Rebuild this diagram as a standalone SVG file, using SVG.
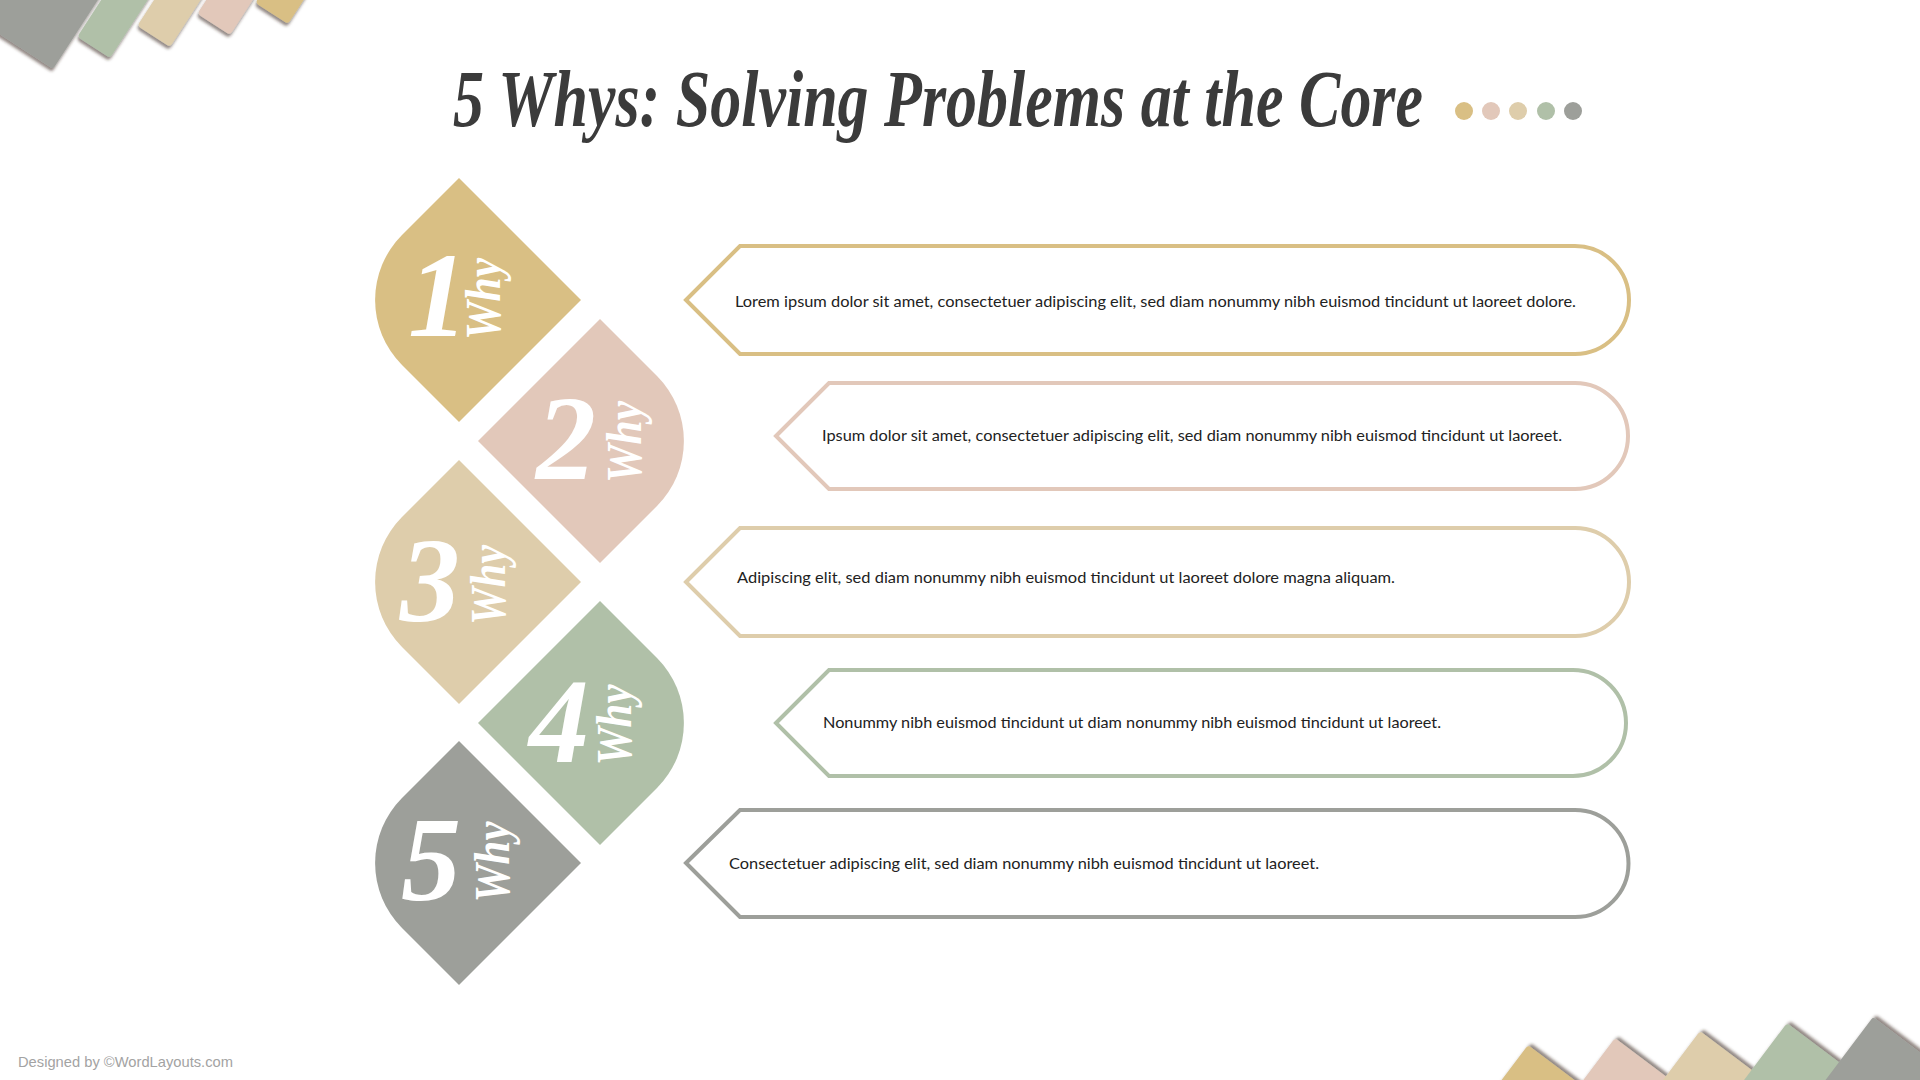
<svg xmlns="http://www.w3.org/2000/svg" width="1920" height="1080" viewBox="0 0 1920 1080">
  <defs>
    <filter id="shTL" x="-30%" y="-30%" width="160%" height="160%">
      <feDropShadow dx="-1" dy="3" stdDeviation="1.6" flood-color="#3a2a20" flood-opacity="0.55"/>
    </filter>
    <filter id="shBR" x="-30%" y="-30%" width="160%" height="160%">
      <feDropShadow dx="3" dy="-2" stdDeviation="1.6" flood-color="#3a2a20" flood-opacity="0.55"/>
    </filter>
  </defs>
  <style>
    .gold{fill:#D9BF84}
    .pink{fill:#E2C8BA}
    .beige{fill:#DECDAB}
    .green{fill:#B0C0A8}
    .gray{fill:#9D9F9A}
    .box{fill:#FFFFFF;stroke-width:4;stroke-linejoin:miter}
    .num{font-family:"Liberation Serif","DejaVu Serif",serif;font-style:italic;font-weight:bold;font-size:120px;fill:#FFFFFF;text-anchor:middle}
    .why{font-family:"Liberation Serif","DejaVu Serif",serif;font-style:italic;font-weight:bold;font-size:50px;fill:#FFFFFF;text-anchor:middle}
    .txt{font-family:Lato,"Open Sans","Liberation Sans",sans-serif;font-size:16px;fill:#222222}
    .title{font-family:"Liberation Serif","DejaVu Serif",serif;font-style:italic;font-weight:bold;font-size:80px;fill:#3B3B3B}
    .foot{font-family:"Liberation Sans",Arial,sans-serif;font-size:15px;fill:#A3A3A3}
  </style>
  <rect width="1920" height="1080" fill="#FFFFFF"/>

  <!-- top-left decoration -->
  <g id="deco-top-left" filter="url(#shTL)">
    <rect class="gold" x="-39" y="-150" width="39" height="150" rx="4" transform="translate(288,24) rotate(33)"/>
    <rect class="pink" x="-39" y="-150" width="39" height="150" rx="4" transform="translate(230,35) rotate(33)"/>
    <rect class="beige" x="-39" y="-150" width="39" height="150" rx="4" transform="translate(170,47) rotate(33)"/>
    <rect class="green" x="-39" y="-150" width="39" height="150" rx="4" transform="translate(110,58) rotate(33)"/>
    <rect class="gray" x="-140" y="-150" width="140" height="150" rx="3" transform="translate(53,69) rotate(33)"/>
  </g>

  <!-- bottom-right decoration -->
  <g id="deco-bottom-right" filter="url(#shBR)">
    <rect class="gold" x="0" y="0" width="80" height="150" rx="4" transform="translate(1528,1045) rotate(37)"/>
    <rect class="pink" x="0" y="0" width="80" height="150" rx="4" transform="translate(1615,1038) rotate(37)"/>
    <rect class="beige" x="0" y="0" width="80" height="150" rx="4" transform="translate(1700,1031) rotate(37)"/>
    <rect class="green" x="0" y="0" width="80" height="150" rx="4" transform="translate(1787,1023) rotate(37)"/>
    <rect class="gray" x="0" y="0" width="160" height="160" rx="3" transform="translate(1873,1017) rotate(37)"/>
  </g>

  <!-- title -->
  <g id="title">
    <text class="title" x="453" y="126" textLength="970" lengthAdjust="spacingAndGlyphs">5 Whys: Solving Problems at the Core</text>
    <circle class="gold" cx="1464" cy="111" r="9"/>
    <circle class="pink" cx="1491" cy="111" r="9"/>
    <circle class="beige" cx="1518" cy="111" r="9"/>
    <circle class="green" cx="1546" cy="111" r="9"/>
    <circle class="gray" cx="1573" cy="111" r="9"/>
  </g>

  <!-- nodes -->
  <g id="node-1">
    <path class="gold" d="M459,178 L581,300 L459,422 L402,365 A92,92 0 0 1 402,235 Z"/>
    <text class="num" x="438" y="336">1</text>
    <text class="why" transform="translate(500,299) rotate(-90)" textLength="82" lengthAdjust="spacingAndGlyphs">Why</text>
  </g>
  <g id="node-2">
    <path class="pink" d="M600,319 L657,376 A92,92 0 0 1 657,506 L600,563 L478,441 Z"/>
    <text class="num" x="566" y="479">2</text>
    <text class="why" transform="translate(641,442) rotate(-90)" textLength="82" lengthAdjust="spacingAndGlyphs">Why</text>
  </g>
  <g id="node-3">
    <path class="beige" d="M459,460 L581,582 L459,704 L402,647 A92,92 0 0 1 402,517 Z"/>
    <text class="num" x="430" y="621">3</text>
    <text class="why" transform="translate(505,585) rotate(-90)" textLength="80" lengthAdjust="spacingAndGlyphs">Why</text>
  </g>
  <g id="node-4">
    <path class="green" d="M600,601 L657,658 A92,92 0 0 1 657,788 L600,845 L478,723 Z"/>
    <text class="num" x="559" y="762">4</text>
    <text class="why" transform="translate(631,725) rotate(-90)" textLength="81" lengthAdjust="spacingAndGlyphs">Why</text>
  </g>
  <g id="node-5">
    <path class="gray" d="M459,741 L581,863 L459,985 L402,928 A92,92 0 0 1 402,798 Z"/>
    <text class="num" x="431" y="900">5</text>
    <text class="why" transform="translate(509,862) rotate(-90)" textLength="81" lengthAdjust="spacingAndGlyphs">Why</text>
  </g>

  <!-- text boxes -->
  <g id="box-1">
    <path class="box" stroke="#D9BF84" d="M686,300 L740,246 L1575,246 A54,54 0 0 1 1575,354 L740,354 Z"/>
    <text class="txt" x="735" y="307" textLength="841" lengthAdjust="spacingAndGlyphs">Lorem ipsum dolor sit amet, consectetuer adipiscing elit, sed diam nonummy nibh euismod tincidunt ut laoreet dolore.</text>
  </g>
  <g id="box-2">
    <path class="box" stroke="#E2C8BA" d="M776,436 L829,383 L1575,383 A53,53 0 0 1 1575,489 L829,489 Z"/>
    <text class="txt" x="822" y="441" textLength="740" lengthAdjust="spacingAndGlyphs">Ipsum dolor sit amet, consectetuer adipiscing elit, sed diam nonummy nibh euismod tincidunt ut laoreet.</text>
  </g>
  <g id="box-3">
    <path class="box" stroke="#DECDAB" d="M686,582 L740,528 L1575,528 A54,54 0 0 1 1575,636 L740,636 Z"/>
    <text class="txt" x="737" y="583" textLength="658" lengthAdjust="spacingAndGlyphs">Adipiscing elit, sed diam nonummy nibh euismod tincidunt ut laoreet dolore magna aliquam.</text>
  </g>
  <g id="box-4">
    <path class="box" stroke="#B0C0A8" d="M776,723 L829,670 L1573,670 A53,53 0 0 1 1573,776 L829,776 Z"/>
    <text class="txt" x="823" y="728" textLength="618" lengthAdjust="spacingAndGlyphs">Nonummy nibh euismod tincidunt ut diam nonummy nibh euismod tincidunt ut laoreet.</text>
  </g>
  <g id="box-5">
    <path class="box" stroke="#9D9F9A" d="M686,863 L740,810 L1575,810 A53.5,53.5 0 0 1 1575,917 L740,917 Z"/>
    <text class="txt" x="729" y="869" textLength="590" lengthAdjust="spacingAndGlyphs">Consectetuer adipiscing elit, sed diam nonummy nibh euismod tincidunt ut laoreet.</text>
  </g>

  <g id="connectors"></g>

  <text class="foot" x="18" y="1067" textLength="215" lengthAdjust="spacingAndGlyphs">Designed by ©WordLayouts.com</text>
</svg>
